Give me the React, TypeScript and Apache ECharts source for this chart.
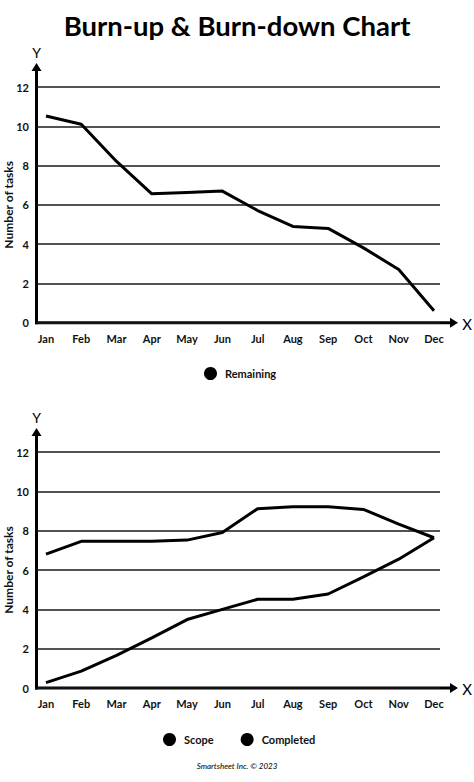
import React, { useEffect, useRef } from "react";
import * as echarts from "echarts";

const months = ["Jan", "Feb", "Mar", "Apr", "May", "Jun", "Jul", "Aug", "Sep", "Oct", "Nov", "Dec"];
const remaining = [10.52, 10.1, 8.21, 6.56, 6.63, 6.7, 5.71, 4.9, 4.8, 3.81, 2.71, 0.61];
const scope = [6.81, 7.46, 7.46, 7.46, 7.52, 7.91, 9.12, 9.22, 9.22, 9.08, 8.33, 7.64];
const completed = [0.27, 0.86, 1.66, 2.55, 3.48, 4.0, 4.51, 4.51, 4.78, 5.65, 6.55, 7.64];
const yTicks = [0, 2, 4, 6, 8, 10, 12];

const FONT = "Lato, 'Open Sans', sans-serif";
const W = 474;
const H = 782;
const GL = 37;
const GR = 440;
const TOP1 = 87;
const ZERO1 = 322.7;
const TOP2 = 452;
const ZERO2 = 688;

function axisDecor(top: number, zero: number) {
  return [
    { type: "line", shape: { x1: 36.5, y1: zero + 1.5, x2: 36.5, y2: top - 17 }, style: { stroke: "#000", lineWidth: 3 } },
    { type: "polygon", shape: { points: [[36.5, top - 24], [31.5, top - 16], [41.5, top - 16]] }, style: { fill: "#000" } },
    { type: "line", shape: { x1: 35, y1: zero, x2: 451, y2: zero }, style: { stroke: "#000", lineWidth: 3 } },
    { type: "polygon", shape: { points: [[458, zero], [450, zero - 5], [450, zero + 5]] }, style: { fill: "#000" } },
    { type: "text", x: 36.5, y: top - 35, style: { text: "Y", font: `400 14px ${FONT}`, fill: "#000", align: "center", verticalAlign: "middle" } },
    { type: "text", x: 467, y: zero + 1, style: { text: "X", font: `400 15px ${FONT}`, fill: "#000", align: "center", verticalAlign: "middle" } },
  ];
}

function xAxisCfg(gridIndex: number) {
  return {
    type: "value",
    gridIndex,
    min: -0.255,
    max: 11.17,
    axisLine: { show: false },
    axisTick: { show: false },
    splitLine: { show: false },
    axisLabel: {
      customValues: months.map((_, i) => i),
      formatter: (v: number) => months[Math.round(v)] ?? "",
      margin: 10,
      fontSize: 11,
      fontWeight: 700,
      color: "#111",
      fontFamily: FONT,
    },
  };
}

function yAxisCfg(gridIndex: number) {
  return {
    type: "value",
    gridIndex,
    min: yTicks[0],
    max: yTicks[yTicks.length - 1],
    interval: 2,
    name: "Number of tasks",
    nameLocation: "middle",
    nameGap: 23,
    nameMoveOverlap: false,
    nameTextStyle: { fontSize: 12, fontWeight: 700, color: "#111", fontFamily: FONT },
    axisLine: { show: false },
    axisTick: { show: false },
    axisLabel: { margin: 8, fontSize: 11, fontWeight: 700, color: "#111", fontFamily: FONT },
    splitLine: { lineStyle: { color: "#1a1a1a", width: 1.6 } },
  };
}

export default function App() {
  const ref = useRef<HTMLDivElement>(null);
  useEffect(() => {
    if (!ref.current) return;
    const chart = echarts.init(ref.current, null, { renderer: "svg" });
    const line = (name: string, data: number[], idx: number) => ({
      name,
      type: "line",
      xAxisIndex: idx,
      yAxisIndex: idx,
      data: data.map((v, i) => [i, v]),
      showSymbol: false,
      symbol: "circle",
      color: "#000",
      lineStyle: { color: "#000", width: 3 },
      itemStyle: { color: "#000" },
    });
    chart.setOption({
      animation: false,
      backgroundColor: "#fff",
      title: {
        text: "Burn-up & Burn-down Chart",
        left: "center",
        top: 6,
        textStyle: { fontSize: 27.5, fontWeight: 700, color: "#000", fontFamily: FONT },
      },
      grid: [
        { left: GL, right: W - GR, top: TOP1, bottom: H - ZERO1, containLabel: false, outerBoundsMode: "none" },
        { left: GL, right: W - GR, top: TOP2, bottom: H - ZERO2, containLabel: false, outerBoundsMode: "none" },
      ],
      xAxis: [xAxisCfg(0), xAxisCfg(1)],
      yAxis: [yAxisCfg(0), yAxisCfg(1)],
      legend: [
        {
          data: ["Remaining"],
          left: 199,
          top: 362,
          icon: "circle",
          itemWidth: 13,
          itemHeight: 13,
          itemGap: 27,
          textStyle: { fontSize: 11, fontWeight: 700, color: "#111", fontFamily: FONT, padding: [0, 0, 0, 3] },
        },
        {
          data: ["Scope", "Completed"],
          left: 158,
          top: 728,
          icon: "circle",
          itemWidth: 13,
          itemHeight: 13,
          itemGap: 27,
          textStyle: { fontSize: 11, fontWeight: 700, color: "#111", fontFamily: FONT, padding: [0, 0, 0, 3] },
        },
      ],
      series: [line("Remaining", remaining, 0), line("Scope", scope, 1), line("Completed", completed, 1)],
      graphic: [
        ...axisDecor(TOP1, ZERO1),
        ...axisDecor(TOP2, ZERO2),
        {
          type: "text",
          x: 237,
          y: 766,
          style: { text: "Smartsheet Inc. © 2023", font: `italic 500 8px ${FONT}`, fill: "#111", align: "center", verticalAlign: "middle" },
        },
      ],
    });
    return () => chart.dispose();
  }, []);
  return <div ref={ref} style={{ width: W, height: H, position: "absolute", left: 0, top: 0 }} />;
}
